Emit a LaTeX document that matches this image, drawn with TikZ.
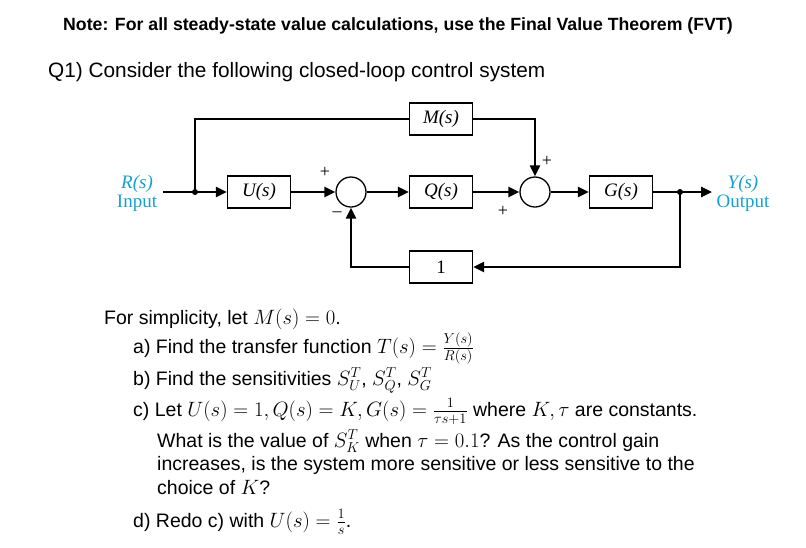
\documentclass[tikz,border=0pt]{standalone}
\usepackage{fontspec}
\setmainfont{Liberation Sans}
\newfontfamily\tms{Liberation Serif}
\usetikzlibrary{arrows.meta}
\definecolor{lbl}{RGB}{20,160,210}
\begin{document}
\begin{tikzpicture}[x=1pt,y=-1pt,
  blk/.style={draw,line width=1.3pt,minimum width=63pt,minimum height=32pt,font=\tms\fontsize{19}{21}\selectfont\itshape},
  sumc/.style={draw,line width=1.3pt,circle,minimum size=30pt,inner sep=0pt},
  ln/.style={line width=2.6pt},
  ar/.style={line width=2.6pt,-{Triangle[length=11pt,width=10pt]}},
  sg/.style={font=\tms\fontsize{18}{18}\selectfont},
  txt/.style={anchor=base west,inner sep=0pt,font=\fontsize{19.5}{22}\selectfont}]
\useasboundingbox (0,0) rectangle (806,547);
\node[anchor=base west,inner sep=0pt,font=\bfseries\fontsize{17.7}{20}\selectfont] (note) at (63,30) {Note: For all steady-state value calculations, use the Final Value Theorem (FVT)};
\node[anchor=base west,inner sep=0pt,font=\fontsize{20.8}{23}\selectfont] (q1) at (48,77) {Q1) Consider the following closed-loop control system};
% diagram
\node[blk] (U) at (259,192) {U(s)};
\node[sumc] (s1) at (351,192) {};
\node[blk] (Q) at (441,192) {Q(s)};
\node[sumc] (s2) at (535,192) {};
\node[blk] (G) at (621,192) {G(s)};
\node[blk] (M) at (441,119) {M(s)};
\node[blk] (one) at (441,267) {\upshape 1};
\coordinate (j1) at (195,192);
\coordinate (j2) at (680,192);
\coordinate (in) at (163,192);
\coordinate (out) at (712,192);
\node[font=\tms\fontsize{19}{21}\selectfont,text=lbl,align=center] (R) at (137,193) {\itshape R(s)\\[-2pt]Input};
\node[font=\tms\fontsize{19}{21}\selectfont,text=lbl,align=center] (Y) at (743,193) {\itshape Y(s)\\[-2pt]Output};
\draw[ln] (in) -- (j1);
\fill (j1) circle (3pt);
\fill (j2) circle (3pt);
\draw[ar] (j1) -- (U);
\draw[ar] (U) -- (s1);
\draw[ar] (s1) -- (Q);
\draw[ar] (Q) -- (s2);
\draw[ar] (s2) -- (G);
\draw[ln] (G) -- (j2);
\draw[ar] (j2) -- (out);
\draw[ln] (j1) |- (M.west);
\draw[ar] (M.east) -| (s2.north);
\draw[ar] (j2) |- (one.east);
\draw[ar] (one.west) -| (s1.south);
\node[sg] at (325,172) {+};
\node[sg] at (337,214) {\textendash};
\node[sg] at (547,161) {+};
\node[sg] at (503,211) {+};
% text
\node[txt] (l0) at (104,324) {For simplicity, let $M(s)=0$.};
\node[txt] (la) at (133,353) {a) Find the transfer function $T(s)=\frac{Y(s)}{R(s)}$};
\node[txt] (lb) at (133,385) {b) Find the sensitivities $S_U^T$, $S_Q^T$, $S_G^T$};
\node[txt] (lc) at (133,416) {c) Let $U(s)=1, Q(s)=K, G(s)=\frac{1}{\tau s+1}$ where $K,\tau$ are constants.};
\node[txt] (lc2) at (157,447) {What is the value of $S_K^T$ when $\tau=0.1$? As the control gain};
\node[txt] (lc3) at (157,470) {increases, is the system more sensitive or less sensitive to the};
\node[txt] (lc4) at (157,494) {choice of $K$?};
\node[txt] (ld) at (133,527) {d) Redo c) with $U(s)=\frac{1}{s}$.};
\end{tikzpicture}
\end{document}
